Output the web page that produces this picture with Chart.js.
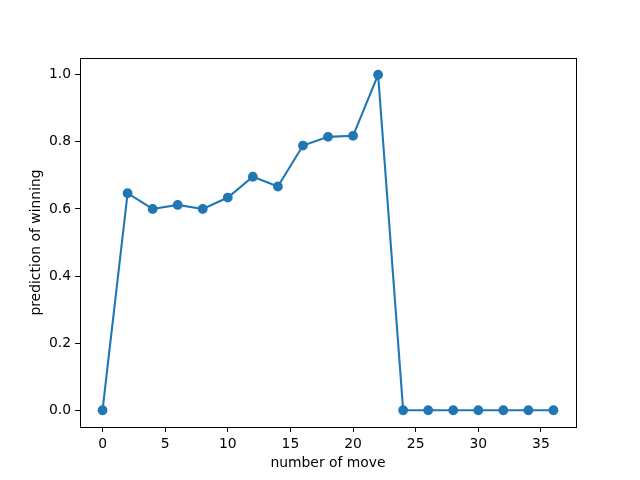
<!DOCTYPE html>
<html>
<head>
<meta charset="utf-8">
<script src="https://cdn.jsdelivr.net/npm/chart.js@4"></script>
<style>
  body { margin: 0; background: #fff; }
</style>
</head>
<body>
<canvas id="myChart" width="640" height="480"></canvas>
<script>
const moves = [0, 2, 4, 6, 8, 10, 12, 14, 16, 18, 20, 22, 24, 26, 28, 30, 32, 34, 36];
const winProb = [0, 0.647, 0.600, 0.612, 0.600, 0.634, 0.696, 0.667, 0.789, 0.815, 0.818, 1.0,
  0, 0, 0, 0, 0, 0, 0];
const xTicks = [0, 5, 10, 15, 20, 25, 30, 35];
const yTicks = [0, 0.2, 0.4, 0.6, 0.8, 1.0];

const blue = "#1f77b4";
const tickFont = { family: "DejaVu Sans", size: 13.9 };

// marco negro alrededor del area del grafico
const frame = {
  id: "frame",
  afterDatasetsDraw(chart) {
    const a = chart.chartArea;
    const ctx = chart.ctx;
    ctx.save();
    ctx.strokeStyle = "#000";
    ctx.lineWidth = 1;
    ctx.strokeRect(Math.round(a.left) + 0.5, Math.round(a.top) + 0.5,
      Math.round(a.right - a.left), Math.round(a.bottom - a.top));
    ctx.restore();
  }
};

function fixedTicks(list) {
  return (scale) => { scale.ticks = list.map((v) => ({ value: v })); };
}

new Chart(document.getElementById("myChart").getContext("2d"), {
  type: "line",
  data: {
    datasets: [{
      data: moves.map((m, i) => ({ x: m, y: winProb[i] })),
      borderColor: blue,
      backgroundColor: blue,
      borderWidth: 2.1,
      pointRadius: 4.2,
      pointBorderWidth: 1.4,
      pointBackgroundColor: blue,
      pointBorderColor: blue,
      tension: 0
    }]
  },
  options: {
    responsive: false,
    animation: false,
    layout: { padding: { left: 28, right: 64, top: 58, bottom: 0 } },
    plugins: { legend: { display: false }, tooltip: { enabled: false } },
    scales: {
      x: {
        type: "linear",
        min: -1.8,
        max: 37.8,
        afterBuildTicks: fixedTicks(xTicks),
        afterFit: (s) => { s.height = 53; },
        grid: { drawOnChartArea: false, tickLength: 4.9, tickColor: "#000", tickWidth: 1 },
        border: { display: false },
        ticks: { color: "#000", font: tickFont, padding: 4, maxRotation: 0,
          callback: (v) => String(v) },
        title: { display: true, text: "number of move", color: "#000", font: tickFont,
          padding: { top: 0, bottom: 8 } }
      },
      y: {
        type: "linear",
        min: -0.05,
        max: 1.05,
        afterBuildTicks: fixedTicks(yTicks),
        afterFit: (s) => { s.width = 52; },
        grid: { drawOnChartArea: false, tickLength: 4.9, tickColor: "#000", tickWidth: 1 },
        border: { display: false },
        ticks: { color: "#000", font: tickFont, padding: 4,
          callback: (v) => Number(v).toFixed(1) },
        title: { display: true, text: "prediction of winning", color: "#000", font: tickFont,
          padding: { top: 0, bottom: 0 } }
      }
    }
  },
  plugins: [frame]
});
</script>
</body>
</html>
